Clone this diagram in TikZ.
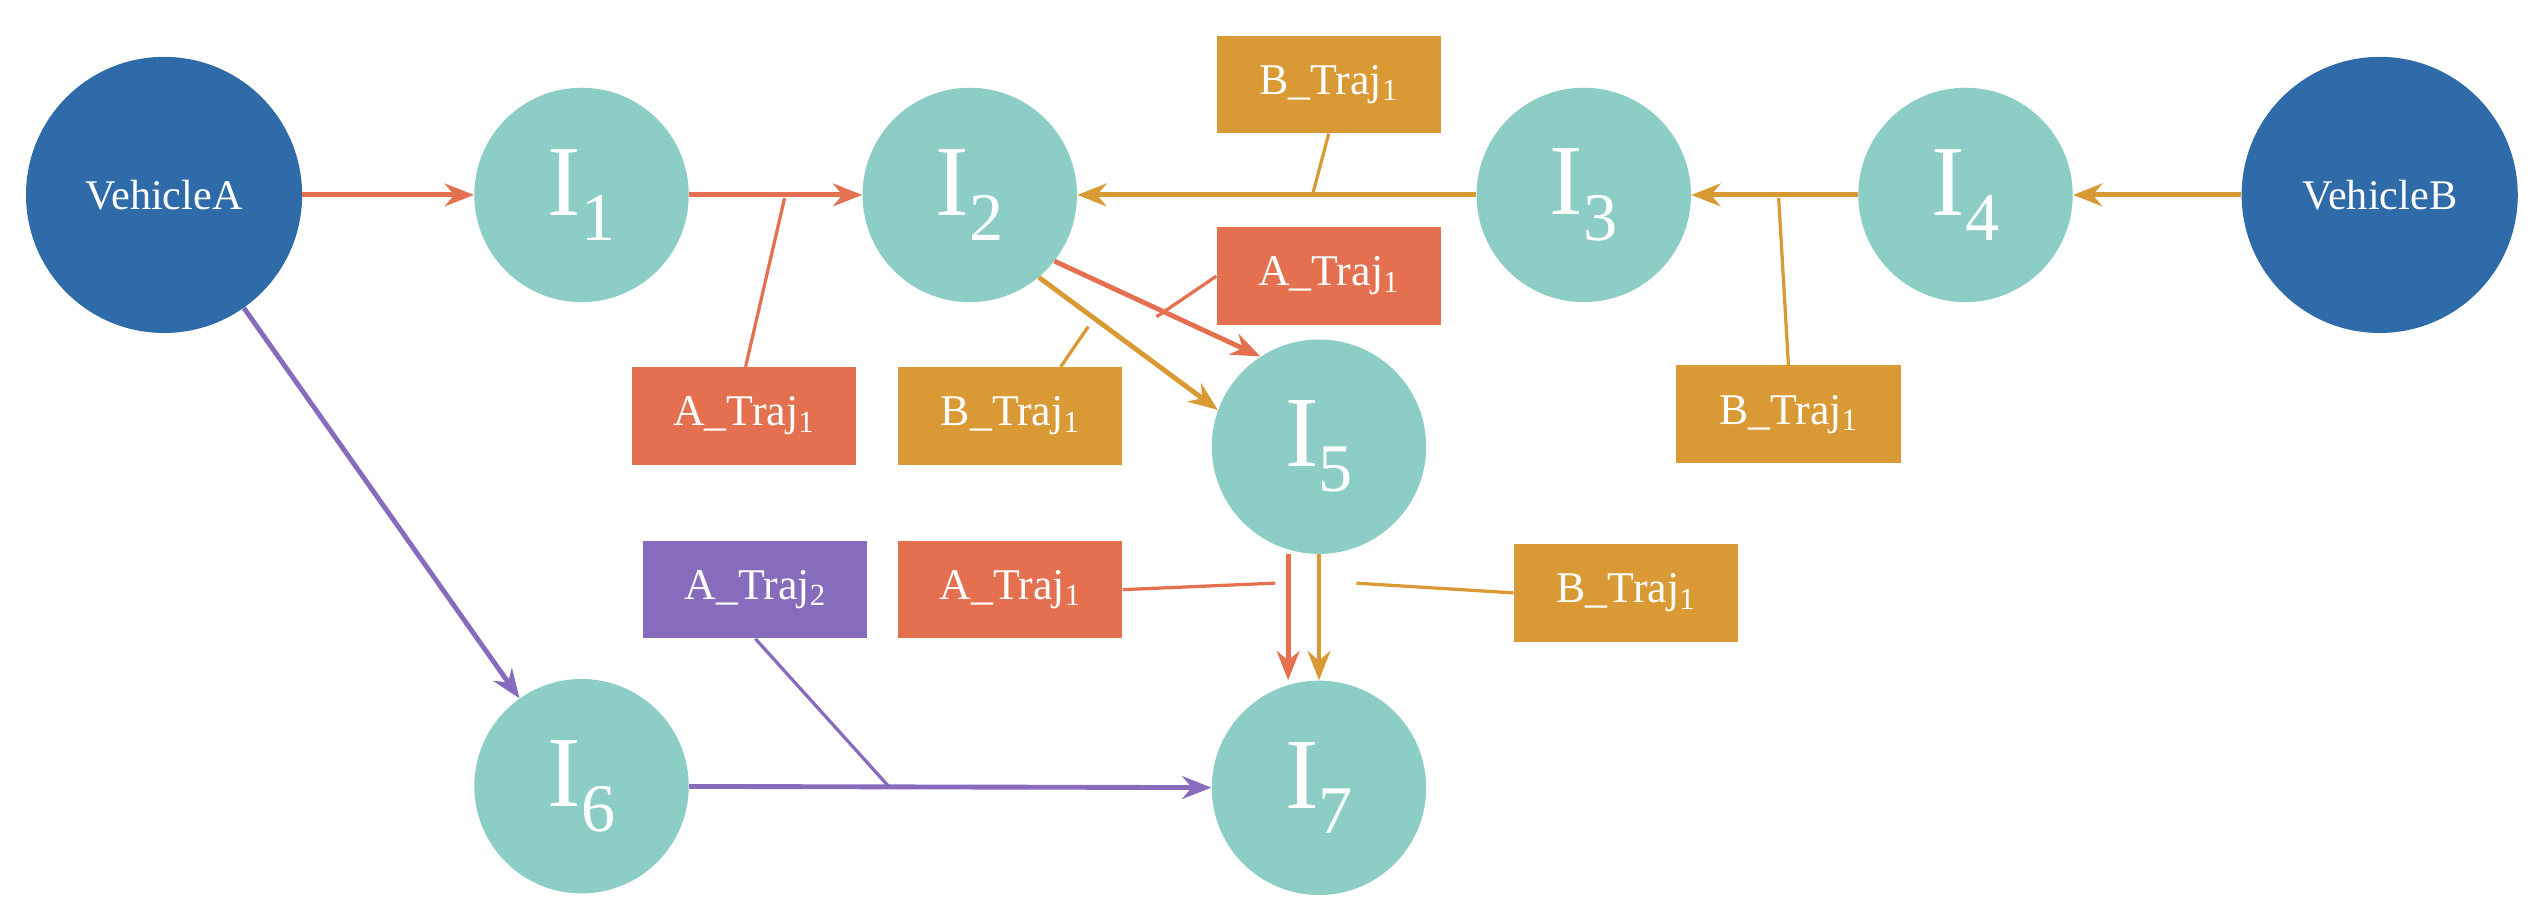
\documentclass[tikz,border=0pt]{standalone}
\usepackage{fontspec}
\setmainfont{Liberation Serif}
\usetikzlibrary{arrows.meta}
\definecolor{navy}{HTML}{2E6BA8}
\definecolor{teal2}{HTML}{8CCDC5}
\definecolor{cred}{HTML}{E4704F}
\definecolor{corg}{HTML}{D99A35}
\definecolor{cpur}{HTML}{876BBD}
\tikzset{
 veh/.style={circle,fill=navy,minimum size=170pt,inner sep=0,text=white,font=\fontsize{26}{26}\selectfont},
 inode/.style={circle,fill=teal2,minimum size=132pt,inner sep=0,text=white,font=\fontsize{62}{62}\selectfont},
 lab/.style={rectangle,minimum width=138pt,minimum height=60pt,inner sep=0,text=white,font=\fontsize{27}{27}\selectfont},
 arr/.style={line width=3pt,-{Stealth[length=18pt,width=14pt]}},
 lead/.style={line width=2pt},
}
\newcommand{\tr}[2]{#1\_Traj\textsubscript{#2}}
\newcommand{\Ilab}[1]{I\raisebox{-0.25em}{\fontsize{42}{42}\selectfont #1}}
\begin{document}
\begin{tikzpicture}[x=1pt,y=-1pt]
\useasboundingbox (0,0) rectangle (1560,565);
\node[veh] (VA) at (101,120) {VehicleA};
\node[veh] (VB) at (1465,120) {VehicleB};
\node[inode] (I1) at (358,120) {\Ilab{1}};
\node[inode] (I2) at (597,120) {\Ilab{2}};
\node[inode] (I3) at (975,120) {\Ilab{3}};
\node[inode] (I4) at (1210,120) {\Ilab{4}};
\node[inode] (I5) at (812,275) {\Ilab{5}};
\node[inode] (I6) at (358,484) {\Ilab{6}};
\node[inode] (I7) at (812,485) {\Ilab{7}};
\node[lab,fill=cred] (L1) at (458,256) {\tr{A}{1}};
\node[lab,fill=corg] (L2) at (622,256) {\tr{B}{1}};
\node[lab,fill=corg] (L3) at (818,52) {\tr{B}{1}};
\node[lab,fill=cred] (L4) at (818,170) {\tr{A}{1}};
\node[lab,fill=corg] (L5) at (1101,255) {\tr{B}{1}};
\node[lab,fill=cpur] (L6) at (465,363) {\tr{A}{2}};
\node[lab,fill=cred] (L7) at (622,363) {\tr{A}{1}};
\node[lab,fill=corg] (L8) at (1001,365) {\tr{B}{1}};
% arrows
\draw[arr,cred] (VA) -- (I1);
\draw[arr,cred] (I1) -- (I2);
\draw[arr,corg] (I3) -- (I2);
\draw[arr,corg] (I4) -- (I3);
\draw[arr,corg] (VB) -- (I4);
\draw[arr,cred] (I2.-38) -- (I5.123);
\draw[arr,corg] (I2.-50) -- (I5.160);
\draw[arr,cred] ([xshift=-19pt]I5.south) -- ([xshift=-19pt]I7.north);
\draw[arr,corg] (I5.south) -- (I7.north);
\draw[arr,cpur] (VA) -- (I6);
\draw[arr,cpur] (I6) -- (I7);
% leaders
\coordinate (m1) at (483,122);
\coordinate (m3) at (808,120);
\coordinate (m5) at (1095,122);
\coordinate (m4) at (712,195);
\coordinate (m2) at (670,201);
\coordinate (m7) at (785,359);
\coordinate (m8) at (835,359);
\coordinate (m6) at (547,484);
\draw[lead,cred] ([xshift=1pt]L1.north) -- (m1);
\draw[lead,corg] (L3.south) -- (m3);
\draw[lead,corg] (L5.north) -- (m5);
\draw[lead,cred] (L4.west) -- (m4);
\draw[lead,corg] ([xshift=31pt]L2.north) -- (m2);
\draw[lead,cred] (L7.east) -- (m7);
\draw[lead,corg] (L8.west) -- (m8);
\draw[lead,cpur] (L6.south) -- (m6);
\end{tikzpicture}
\end{document}
